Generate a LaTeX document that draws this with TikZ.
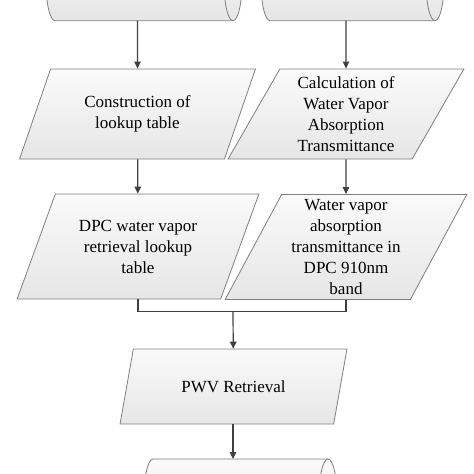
\documentclass[tikz,border=0pt]{standalone}
\usepackage{fontspec}
\setmainfont{Liberation Serif}
\usetikzlibrary{shapes.geometric,arrows.meta,positioning}
\definecolor{pwvedge}{HTML}{7F7F7F}
\definecolor{pwvline}{HTML}{404040}
\definecolor{pwvtop}{HTML}{FAFAFA}
\definecolor{pwvbot}{HTML}{E6E6E6}
% drum outline round the body node #1
\newcommand{\drumoutline}[1]{%
  \draw[drumline, top color=pwvtop, bottom color=pwvbot]
    (#1.north west) arc[start angle=90, end angle=270, x radius=9pt, y radius=38pt]
    -- (#1.south east) arc[start angle=-90, end angle=90, x radius=9pt, y radius=38pt]
    -- cycle;
  \draw[drumline] (#1.south east)
    arc[start angle=270, end angle=90, x radius=9pt, y radius=38pt];}

\begin{document}
\begin{tikzpicture}[x=1pt, y=1pt,
  every node/.style={font=\fontsize{17}{21}\selectfont},
  datain/.style={trapezium, trapezium left angle=63.4,
    trapezium right angle=116.6, trapezium stretches=true,
    draw=pwvedge, line width=0.8pt, top color=pwvtop,
    bottom color=pwvbot, align=center, inner sep=1pt},
  drum/.style={minimum height=76pt, inner sep=0pt, outer sep=0pt},
  drumline/.style={draw=pwvedge, line width=0.8pt},
  link/.style={draw=pwvline, line width=1.2pt},
  arr/.style={link, -{Triangle[length=7pt,width=6.5pt]}}]

  \useasboundingbox (0,0) rectangle (474,-474);

  % input data (cut off at the top)
  \node[drum, minimum width=178pt] (topleft) at (144,17.3) {};
  \node[drum, minimum width=165pt] (topright) at (352.5,17.3) {};
  \drumoutline{topleft}
  \drumoutline{topright}

  % processing steps
  \node[datain, minimum width=236pt, minimum height=90pt]
    (lut) at (137.5,-114) {Construction of\\lookup table};
  \node[datain, minimum width=236pt, minimum height=90pt]
    (calc) at (346,-114) {Calculation of\\Water Vapor\\Absorption\\Transmittance};
  \node[datain, minimum width=242pt, minimum height=105pt]
    (table) at (138,-246.5) {DPC water vapor\\retrieval lookup\\table};
  \node[datain, minimum width=242pt, minimum height=105pt]
    (trans) at (346,-247) {Water vapor\\absorption\\transmittance in\\DPC 910nm\\band};
  \node[datain, minimum width=227pt, minimum height=75pt]
    (pwv) at (233.5,-386.5) {PWV Retrieval};

  % output (cut off at the bottom)
  \node[drum, minimum width=175pt] (result) at (240.5,-497) {};
  \drumoutline{result}

  \coordinate (join) at (233,-311.5);

  \draw[arr] (topleft.south -| lut.center) -- (lut);
  \draw[arr] (topright.south -| calc.center) -- (calc);
  \draw[arr] (lut) -- (table);
  \draw[arr] (calc) -- (trans);
  \draw[link] (table) |- (join) -| (trans);
  \draw[arr] (join) -- (pwv);
  \draw[arr] (pwv.south -| join) -- (join |- result.north);

\end{tikzpicture}
\end{document}
